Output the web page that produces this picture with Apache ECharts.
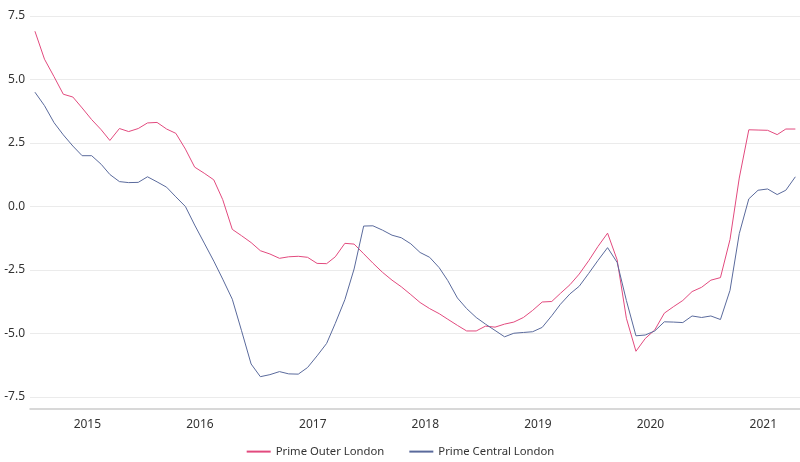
<!DOCTYPE html>
<html>
<head>
<meta charset="utf-8">
<script src="https://cdn.jsdelivr.net/npm/echarts@6/dist/echarts.min.js"></script>
<style>
  html, body { margin: 0; padding: 0; background: #fff; }
  #main { width: 800px; height: 462px; }
</style>
</head>
<body>
<div id="main"></div>
<script>
// monthly readings, Jul 2014 .. Apr 2021
const firstMonth = [2014, 7];
const monthCount = 82;

const outerLondon = [
  6.9, 5.8, 5.11, 4.42, 4.31, 3.88, 3.42, 3.02, 2.6, 3.07, 2.95, 3.07,
  3.29, 3.31, 3.05, 2.88, 2.26, 1.55, 1.31, 1.05, 0.27, -0.9, -1.15, -1.42,
  -1.74, -1.87, -2.04, -1.98, -1.96, -2.0, -2.24, -2.25, -1.98, -1.45, -1.48, -1.86,
  -2.23, -2.59, -2.9, -3.16, -3.47, -3.78, -4.02, -4.22, -4.44, -4.68, -4.9, -4.9,
  -4.71, -4.75, -4.63, -4.55, -4.37, -4.09, -3.76, -3.74, -3.42, -3.08, -2.66, -2.13,
  -1.57, -1.05, -2.1, -4.4, -5.7, -5.2, -4.86, -4.2, -3.95, -3.7, -3.35, -3.18,
  -2.9, -2.8, -1.3, 1.12, 3.02, 3.01, 3.0, 2.83, 3.05, 3.05
];

const centralLondon = [
  4.5, 3.97, 3.3, 2.82, 2.38, 2.0, 2.0, 1.66, 1.26, 0.98, 0.94, 0.95,
  1.17, 0.97, 0.76, 0.38, 0.0, -0.73, -1.44, -2.15, -2.86, -3.65, -4.89, -6.2,
  -6.7, -6.62, -6.5, -6.59, -6.6, -6.34, -5.88, -5.39, -4.6, -3.67, -2.46, -0.77,
  -0.76, -0.93, -1.13, -1.23, -1.47, -1.81, -2.0, -2.41, -2.92, -3.6, -4.02, -4.37,
  -4.63, -4.88, -5.13, -4.99, -4.96, -4.93, -4.76, -4.3, -3.85, -3.44, -3.14, -2.63,
  -2.12, -1.62, -2.2, -3.7, -5.09, -5.06, -4.9, -4.54, -4.55, -4.57, -4.31, -4.37,
  -4.31, -4.45, -3.3, -1.07, 0.3, 0.64, 0.69, 0.47, 0.64, 1.17
];

const yTicks = [-7.5, -5, -2.5, 0, 2.5, 5, 7.5];

const months = [];
for (let i = 0; i < monthCount; i++) {
  const m = firstMonth[1] - 1 + i;
  const y = firstMonth[0] + Math.floor(m / 12);
  const mm = String((m % 12) + 1).padStart(2, '0');
  months.push(y + '-' + mm + '-15');
}

function pairs(values) {
  return values.map((v, i) => [months[i], v]);
}

const chart = echarts.init(document.getElementById('main'));
const font = "'Noto Sans', 'Open Sans', sans-serif";

chart.setOption({
  animation: false,
  textStyle: { fontFamily: font },
  grid: { left: 30, right: 0, top: 16, bottom: 65 },
  legend: {
    top: 446,
    left: 'center',
    padding: 0,
    itemWidth: 24,
    itemHeight: 14,
    itemGap: 24,
    itemStyle: { opacity: 0 },
    textStyle: { fontFamily: font, fontSize: 11.3, color: '#333' },
    data: ['Prime Outer London', 'Prime Central London']
  },
  xAxis: {
    type: 'time',
    min: '2014-06-29',
    max: '2021-04-30',
    splitNumber: 7,
    offset: 12,
    axisLine: { show: true, onZero: false, lineStyle: { color: '#cccccc', width: 1.5 } },
    axisTick: { show: false },
    splitLine: { show: false },
    axisLabel: {
      color: '#333',
      fontSize: 12,
      fontFamily: font,
      margin: 10,
      formatter: function (value) {
        const d = new Date(value);
        return d.getMonth() === 0 && d.getDate() === 1 ? String(d.getFullYear()) : '';
      }
    }
  },
  yAxis: {
    type: 'value',
    min: yTicks[0],
    max: yTicks[yTicks.length - 1],
    interval: 2.5,
    axisLine: { show: false },
    axisTick: { show: false },
    splitLine: { lineStyle: { color: '#ebebeb', width: 1 } },
    axisLabel: {
      color: '#333',
      fontSize: 12,
      fontFamily: font,
      margin: 5,
      formatter: v => v.toFixed(1)
    }
  },
  series: [
    {
      name: 'Prime Outer London',
      type: 'line',
      symbol: 'none',
      data: pairs(outerLondon),
      lineStyle: { color: '#e24a7e', width: 1 },
      itemStyle: { color: '#e24a7e' }
    },
    {
      name: 'Prime Central London',
      type: 'line',
      symbol: 'none',
      data: pairs(centralLondon),
      lineStyle: { color: '#5a6a9c', width: 1 },
      itemStyle: { color: '#5a6a9c' }
    }
  ]
});
</script>
</body>
</html>
